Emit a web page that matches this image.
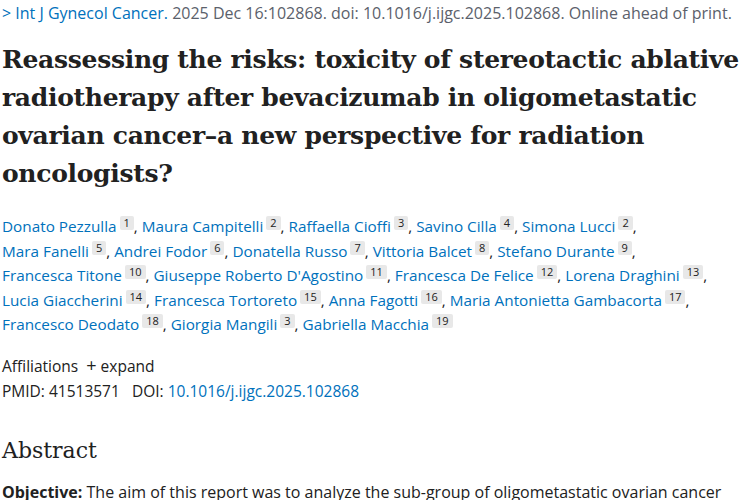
<!DOCTYPE html>
<html lang="en">
<head>
<meta charset="UTF-8" />
<title>Reassessing the risks</title>
<script src="https://cdn.jsdelivr.net/npm/chart.js"></script>
<style>
    body { margin: 0; width: 750px; height: 500px; overflow: hidden; background: #fff;
           font-family: "Open Sans", "Noto Sans", sans-serif; color: #212121; }
    .wrap { position: relative; left: 2px; }
    .cite { position: absolute; top: 2px; font-size: 16px; color: #5b616b; white-space: nowrap; }
    .cite a { color: #0071bc; text-decoration: none; }
    h1 { position: absolute; top: 41px; margin: 0; width: 780px; font-family: "DejaVu Serif", serif;
         font-size: 25px; line-height: 38px; font-weight: bold; letter-spacing: -0.3px; color: #212121; }
    .authors { position: absolute; top: 214px; width: 748px; font-size: 15.3px; line-height: 24.6px; color: #0071bc; }
    .authors sup { display: inline-block; font-size: 11px; line-height: 14px; color: #212121;
                   background: #e8e8e8; padding: 0 4px; border-radius: 2px; vertical-align: 5px; margin-left: 3px; }
    .aff { position: absolute; top: 353px; font-size: 15.5px; }
    .ids { position: absolute; top: 380px; font-size: 15.5px; }
    .ids a { color: #0071bc; }
    h2 { position: absolute; top: 438px; margin: 0; font-family: "DejaVu Serif", serif; font-weight: normal; font-size: 22px; }
    .obj { position: absolute; top: 481px; font-size: 16px; white-space: nowrap; }
</style>
</head>
<body>
<div class="wrap">
    <div class="cite"><a>&gt; Int J Gynecol Cancer.</a> 2025 Dec 16:102868. doi: 10.1016/j.ijgc.2025.102868. Online ahead of print.</div>
    <h1 id="title"></h1>
    <div class="authors" id="authors"></div>
    <div class="aff">Affiliations &nbsp;<b style="font-weight:400;font-size:18px">+</b> expand</div>
    <div class="ids">PMID: 41513571 &nbsp;&nbsp;DOI: <a>10.1016/j.ijgc.2025.102868</a></div>
    <h2>Abstract</h2>
    <div class="obj"><b>Objective:</b> The aim of this report was to analyze the sub-group of oligometastatic ovarian cancer</div>
</div>
<script>
    const titleLines = [
        "Reassessing the risks: toxicity of stereotactic ablative",
        "radiotherapy after bevacizumab in oligometastatic",
        "ovarian cancer\u2013a new perspective for radiation",
        "oncologists?"
    ];
    const authorNames = ["Donato Pezzulla", "Maura Campitelli", "Raffaella Cioffi", "Savino Cilla", "Simona Lucci",
        "Mara Fanelli", "Andrei Fodor", "Donatella Russo", "Vittoria Balcet", "Stefano Durante",
        "Francesca Titone", "Giuseppe Roberto D'Agostino", "Francesca De Felice", "Lorena Draghini",
        "Lucia Giaccherini", "Francesca Tortoreto", "Anna Fagotti", "Maria Antonietta Gambacorta",
        "Francesco Deodato", "Giorgia Mangili", "Gabriella Macchia"];
    const authorAffs = [1, 2, 3, 4, 2, 5, 6, 7, 8, 9, 10, 11, 12, 13, 14, 15, 16, 17, 18, 3, 19];
    const lineBreaksAfter = [4, 9, 13, 17];

    document.getElementById("title").innerHTML = titleLines.join("<br>");
    let html = "";
    authorNames.forEach((name, i) => {
        html += name + "<sup>" + authorAffs[i] + "</sup>";
        if (i < authorNames.length - 1) html += '<span style="color:#212121">, </span>';
        if (lineBreaksAfter.includes(i)) html += "<br>";
    });
    document.getElementById("authors").innerHTML = html;
</script>
</body>
</html>
